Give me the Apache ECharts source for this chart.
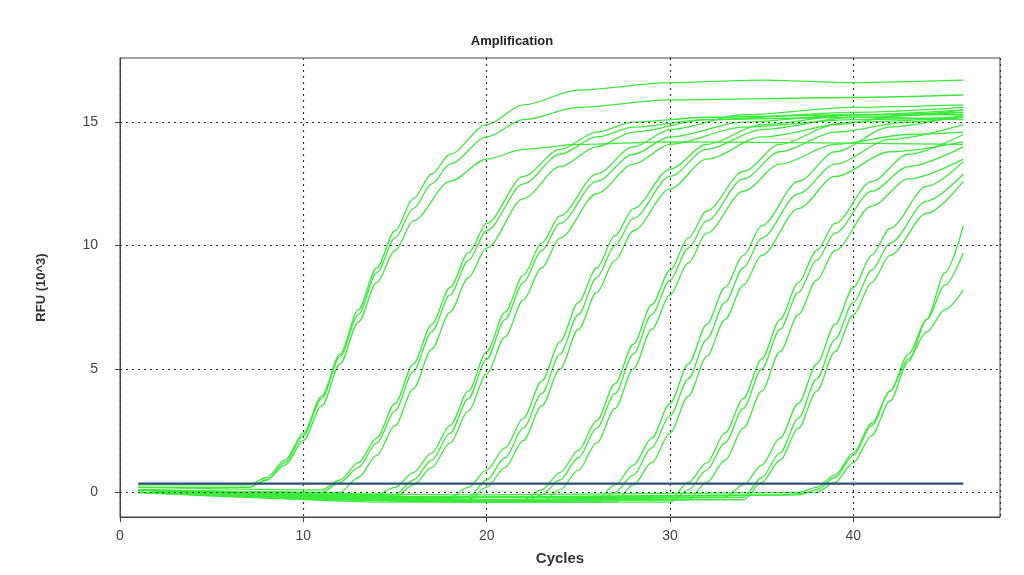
<!DOCTYPE html>
<html><head><meta charset="utf-8">
<script src="https://cdn.jsdelivr.net/npm/echarts@6/dist/echarts.min.js"></script>
<style>html,body{margin:0;background:#fff}#chart{width:1024px;height:575px}</style>
</head><body><div id="chart"></div>
<script>
// curves: [cycle, RFU x10^3]
var groupA = [
  [[1,.3],[7,.3],[8,.6],[9,1.3],[10,2.4],[11,3.9],[12,5.6],[13,7.4],[14,9.1],[15,10.6],[16,11.9],[17,12.9],[18,13.7],[20,14.9],[22,15.7],[25,16.3],[30,16.6],[35,16.7],[40,16.6],[46,16.7]],
  [[1,.2],[7,.2],[8,.5],[9,1.2],[10,2.3],[11,3.8],[12,5.5],[13,7.2],[14,8.9],[15,10.3],[16,11.5],[17,12.5],[18,13.3],[20,14.4],[22,15.1],[25,15.6],[30,15.9],[40,16.0],[46,16.1]],
  [[1,.2],[7,.2],[8,.5],[9,1.1],[10,2.1],[11,3.5],[12,5.2],[13,6.9],[14,8.5],[15,9.8],[16,11],[18,12.6],[20,13.5],[22,13.9],[25,14.1],[30,14.2],[46,14.1]]
];
var groupB = [
  [[1,.2],[11,.1],[12,.5],[13,1.2],[14,2.2],[15,3.6],[16,5.2],[17,6.8],[18,8.3],[19,9.7],[20,10.9],[22,12.8],[24,13.9],[26,14.6],[28,15],[32,15.2],[40,15.3],[46,15.3]],
  [[1,.1],[11,0],[12,.4],[13,1],[14,2],[15,3.3],[16,4.9],[17,6.5],[18,8],[19,9.4],[20,10.6],[22,12.5],[24,13.7],[26,14.4],[28,14.8],[32,15.1],[40,15.2],[46,15.1]],
  [[1,.1],[12,0],[13,.6],[14,1.5],[15,2.7],[16,4.2],[17,5.8],[18,7.3],[19,8.7],[20,9.9],[22,11.9],[24,13.2],[26,14],[28,14.6],[32,15.1],[40,15.4],[46,15.6]]
];
var groupC = [
  [[1,.1],[14,-.1],[15,.2],[16,.8],[17,1.6],[18,2.7],[19,4.1],[20,5.7],[21,7.3],[22,8.8],[23,10.1],[24,11.2],[26,12.9],[28,14],[30,14.7],[34,15.3],[40,15.6],[46,15.7]],
  [[1,0],[15,-.1],[16,.5],[17,1.3],[18,2.4],[19,3.8],[20,5.4],[21,7],[22,8.5],[23,9.8],[24,10.9],[26,12.6],[28,13.7],[30,14.4],[34,15],[40,15.3],[46,15.4]],
  [[1,.1],[15,-.2],[16,.3],[17,1],[18,2],[19,3.3],[20,4.8],[21,6.3],[22,7.8],[23,9.1],[24,10.3],[26,12.1],[28,13.3],[30,14.1],[34,14.8],[40,15.1],[46,15.2]]
];
var groupD = [
  [[1,.1],[10,-.1],[18,-.2],[19,.2],[20,.9],[21,1.8],[22,3],[23,4.5],[24,6.1],[25,7.7],[26,9.1],[27,10.4],[28,11.5],[30,13.1],[32,14.1],[35,14.9],[40,15.3],[46,15.5]],
  [[1,0],[10,-.2],[19,-.2],[20,.5],[21,1.4],[22,2.6],[23,4],[24,5.6],[25,7.2],[26,8.7],[27,10],[28,11.1],[30,12.8],[32,13.9],[35,14.7],[40,15.2],[46,15.4]],
  [[1,.1],[10,-.2],[19,-.3],[20,.2],[21,1],[22,2.1],[23,3.5],[24,5],[25,6.6],[26,8.1],[27,9.4],[28,10.6],[30,12.3],[32,13.5],[35,14.4],[40,15],[46,15.2]]
];
var groupE = [
  [[1,.1],[12,-.2],[22,-.3],[23,.1],[24,.8],[25,1.7],[26,2.9],[27,4.4],[28,6],[29,7.6],[30,9],[31,10.3],[32,11.4],[34,13],[36,14.1],[39,14.9],[43,15.3],[46,15.5]],
  [[1,0],[12,-.3],[22,-.4],[23,-.1],[24,.5],[25,1.4],[26,2.6],[27,4],[28,5.6],[29,7.2],[30,8.6],[31,9.9],[32,11],[34,12.7],[36,13.8],[39,14.6],[43,15],[46,15.2]],
  [[1,.1],[12,-.2],[23,-.4],[24,.1],[25,.9],[26,2],[27,3.4],[28,5],[29,6.6],[30,8],[31,9.3],[32,10.5],[34,12.2],[36,13.3],[39,14.1],[43,14.5],[46,14.6]]
];
var groupF = [
  [[1,.1],[15,-.3],[26,-.3],[27,.3],[28,1.1],[29,2.2],[30,3.6],[31,5.2],[32,6.8],[33,8.3],[34,9.6],[35,10.8],[37,12.6],[39,13.8],[42,14.8],[46,15.3]],
  [[1,0],[15,-.3],[26,-.4],[27,0],[28,.7],[29,1.8],[30,3.1],[31,4.6],[32,6.2],[33,7.7],[34,9.1],[35,10.3],[37,12.1],[39,13.3],[42,14.3],[46,14.9]],
  [[1,.1],[15,-.4],[27,-.4],[28,.3],[29,1.2],[30,2.4],[31,3.9],[32,5.5],[33,7],[34,8.4],[35,9.6],[37,11.5],[39,12.8],[42,13.8],[46,14.2]]
];
var groupG = [
  [[1,.1],[20,-.3],[30,-.3],[31,.4],[32,1.2],[33,2.4],[34,3.8],[35,5.4],[36,7],[37,8.5],[38,9.8],[39,10.9],[41,12.6],[43,13.7],[46,14.5]],
  [[1,0],[20,-.4],[30,-.4],[31,.1],[32,.9],[33,2],[34,3.4],[35,5],[36,6.6],[37,8.1],[38,9.4],[39,10.5],[41,12.2],[43,13.2],[46,14]],
  [[1,.1],[20,-.3],[31,-.3],[32,.4],[33,1.3],[34,2.6],[35,4.1],[36,5.7],[37,7.2],[38,8.6],[39,9.8],[41,11.6],[43,12.7],[46,13.5]]
];
var groupH = [
  [[1,.1],[20,-.2],[33,-.2],[34,.3],[35,1.1],[36,2.2],[37,3.6],[38,5.2],[39,6.8],[40,8.3],[41,9.6],[42,10.7],[44,12.4],[46,13.4]],
  [[1,0],[20,-.3],[34,-.2],[35,.6],[36,1.6],[37,3],[38,4.6],[39,6.2],[40,7.7],[41,9],[42,10.1],[44,11.8],[46,12.9]],
  [[1,.1],[20,-.3],[34,-.3],[35,.4],[36,1.3],[37,2.6],[38,4.1],[39,5.7],[40,7.2],[41,8.5],[42,9.6],[44,11.3],[46,12.6]]
];
var groupI = [
  [[1,.1],[20,-.2],[36,-.1],[38,0],[39,.4],[40,1.2],[41,2.3],[42,3.7],[43,5.3],[44,7],[45,8.9],[46,10.8]],
  [[1,0],[20,-.2],[37,-.1],[38,.1],[39,.6],[40,1.5],[41,2.7],[42,4.1],[43,5.6],[44,7],[45,8.4],[46,9.7]],
  [[1,.1],[20,-.1],[37,0],[38,.2],[39,.7],[40,1.6],[41,2.8],[42,4.1],[43,5.4],[44,6.5],[45,7.4],[46,8.2]]
];
var threshold = [[1,0.35],[46,0.35]];
var yTicks = [0, 5, 10, 15];

var curves = [].concat(groupA, groupB, groupC, groupD, groupE, groupF, groupG, groupH, groupI);
var series = curves.map(function (c) {
  return { type: 'line', data: c, smooth: 0.3, smoothMonotone: 'x', symbol: 'none', silent: true,
    lineStyle: { color: '#3cea3c', width: 1.3 } };
});
series.push({
  type: 'line', data: threshold, symbol: 'none', silent: true, z: 3,
  lineStyle: { color: '#2f4f7a', width: 2.2 },
  markLine: { symbol: 'none', silent: true, label: { show: false },
    lineStyle: { color: '#333', type: [2, 4], width: 1.2 },
    data: yTicks.map(function (v) { return { yAxis: v }; }) }
});

var mychart = echarts.init(document.getElementById('chart'));
mychart.setOption({
  animation: false,
  textStyle: { fontFamily: 'Liberation Sans' },
  title: { text: 'Amplification', left: 'center', top: 30,
    textStyle: { fontSize: 13, fontWeight: 'bold', color: '#222' } },
  grid: { left: 120, right: 24, top: 58, bottom: 58, show: true, borderColor: '#444', borderWidth: 1 },
  xAxis: {
    type: 'value', min: 0, max: 48, interval: 10,
    name: 'Cycles', nameLocation: 'middle', nameGap: 34,
    nameTextStyle: { fontSize: 15, fontWeight: 'bold', color: '#333' },
    axisLine: { onZero: false, lineStyle: { color: '#444' } },
    axisTick: { length: 5, lineStyle: { color: '#444' } },
    axisLabel: { fontSize: 14, color: '#444', showMaxLabel: false, margin: 12 },
    splitLine: { show: true, lineStyle: { color: '#333', type: [2, 4], width: 1.2 } }
  },
  yAxis: {
    type: 'value', min: -1, max: 17.6,
    name: 'RFU (10^3)', nameLocation: 'middle', nameGap: 72, nameRotate: 90,
    nameTextStyle: { fontSize: 13, fontWeight: 'bold', color: '#333' },
    axisLine: { show: true, onZero: false, lineStyle: { color: '#444' } },
    axisTick: { show: true, length: 5, customValues: yTicks, lineStyle: { color: '#444' } },
    axisLabel: { fontSize: 14, color: '#444', customValues: yTicks, margin: 22 },
    splitLine: { show: false }
  },
  series: series
});
</script></body></html>
